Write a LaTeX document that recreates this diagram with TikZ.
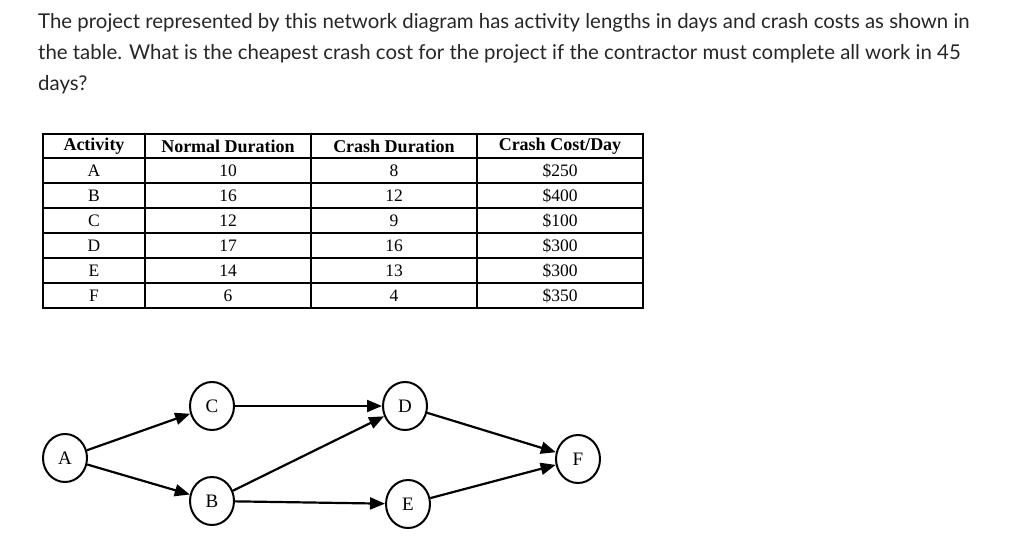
\documentclass[tikz,border=0pt]{standalone}
\usepackage{fontspec}
\setmainfont{Lato}
\newfontfamily\tabfont{Liberation Serif}
\usetikzlibrary{arrows.meta,shapes.geometric}
\begin{document}
\begin{tikzpicture}[x=1pt,y=-1pt,
  txt/.style={anchor=base west,inner sep=0,font=\fontsize{20.4}{24}\selectfont,text=black!85},
  cell/.style={inner sep=0,font=\tabfont\fontsize{17.5}{20}\selectfont},
  hd/.style={cell,font=\tabfont\bfseries\fontsize{18}{20}\selectfont},
  ev/.style={draw,line width=2pt,ellipse,minimum width=44,minimum height=48,inner sep=0,font=\tabfont\fontsize{19}{21}\selectfont},
  ar/.style={-{Triangle[length=15pt,width=12pt]},line width=2.2pt}]
\useasboundingbox (0,0) rectangle (1024,557);
\node[txt] (t1) at (38,28) {The project represented by this network diagram has activity lengths in days and crash costs as shown in};
\node[txt] (t2) at (38,59) {the table. What is the cheapest crash cost for the project if the contractor must complete all work in 45};
\node[txt] (t3) at (38,90) {days?};
% table
\draw[line width=1.6pt] (43,134) rectangle (643,308);
\foreach \x in {145,311,477} \draw[line width=1.3pt] (\x,134) -- (\x,308);
\foreach \y in {158,183,208,233,258,283} \draw[line width=1.3pt] (43,\y) -- (643,\y);
\node[hd] (h1) at (94,146) {Activity};
\node[hd] (h2) at (228,146) {Normal Duration};
\node[hd] (h3) at (394,146) {Crash Duration};
\node[hd] (h4) at (560,146) {Crash Cost/Day};
\foreach \a/\n/\c/\k [count=\i] in {A/10/8/\$250,B/16/12/\$400,C/12/9/\$100,D/17/16/\$300,E/14/13/\$300,F/6/4/\$350}{
  \node[cell] (a\i) at (94,170.5+25*\i-25) {\a};
  \node[cell] (n\i) at (228,170.5+25*\i-25) {\n};
  \node[cell] (c\i) at (394,170.5+25*\i-25) {\c};
  \node[cell] (k\i) at (560,170.5+25*\i-25) {\k};
}
% network
\node[ev] (A) at (65,458) {A};
\node[ev] (C) at (212,406) {C};
\node[ev] (B) at (212,501) {B};
\node[ev] (D) at (405,406) {D};
\node[ev] (E) at (408,504) {E};
\node[ev] (F) at (578,459) {F};
\draw[ar] (A) -- (C);
\draw[ar] (A) -- (B);
\draw[ar] (C) -- (D);
\draw[ar] (B) -- (D);
\draw[ar] (B) -- (E);
\draw[ar] (D) -- (F);
\draw[ar] (E) -- (F);
\end{tikzpicture}
\end{document}
